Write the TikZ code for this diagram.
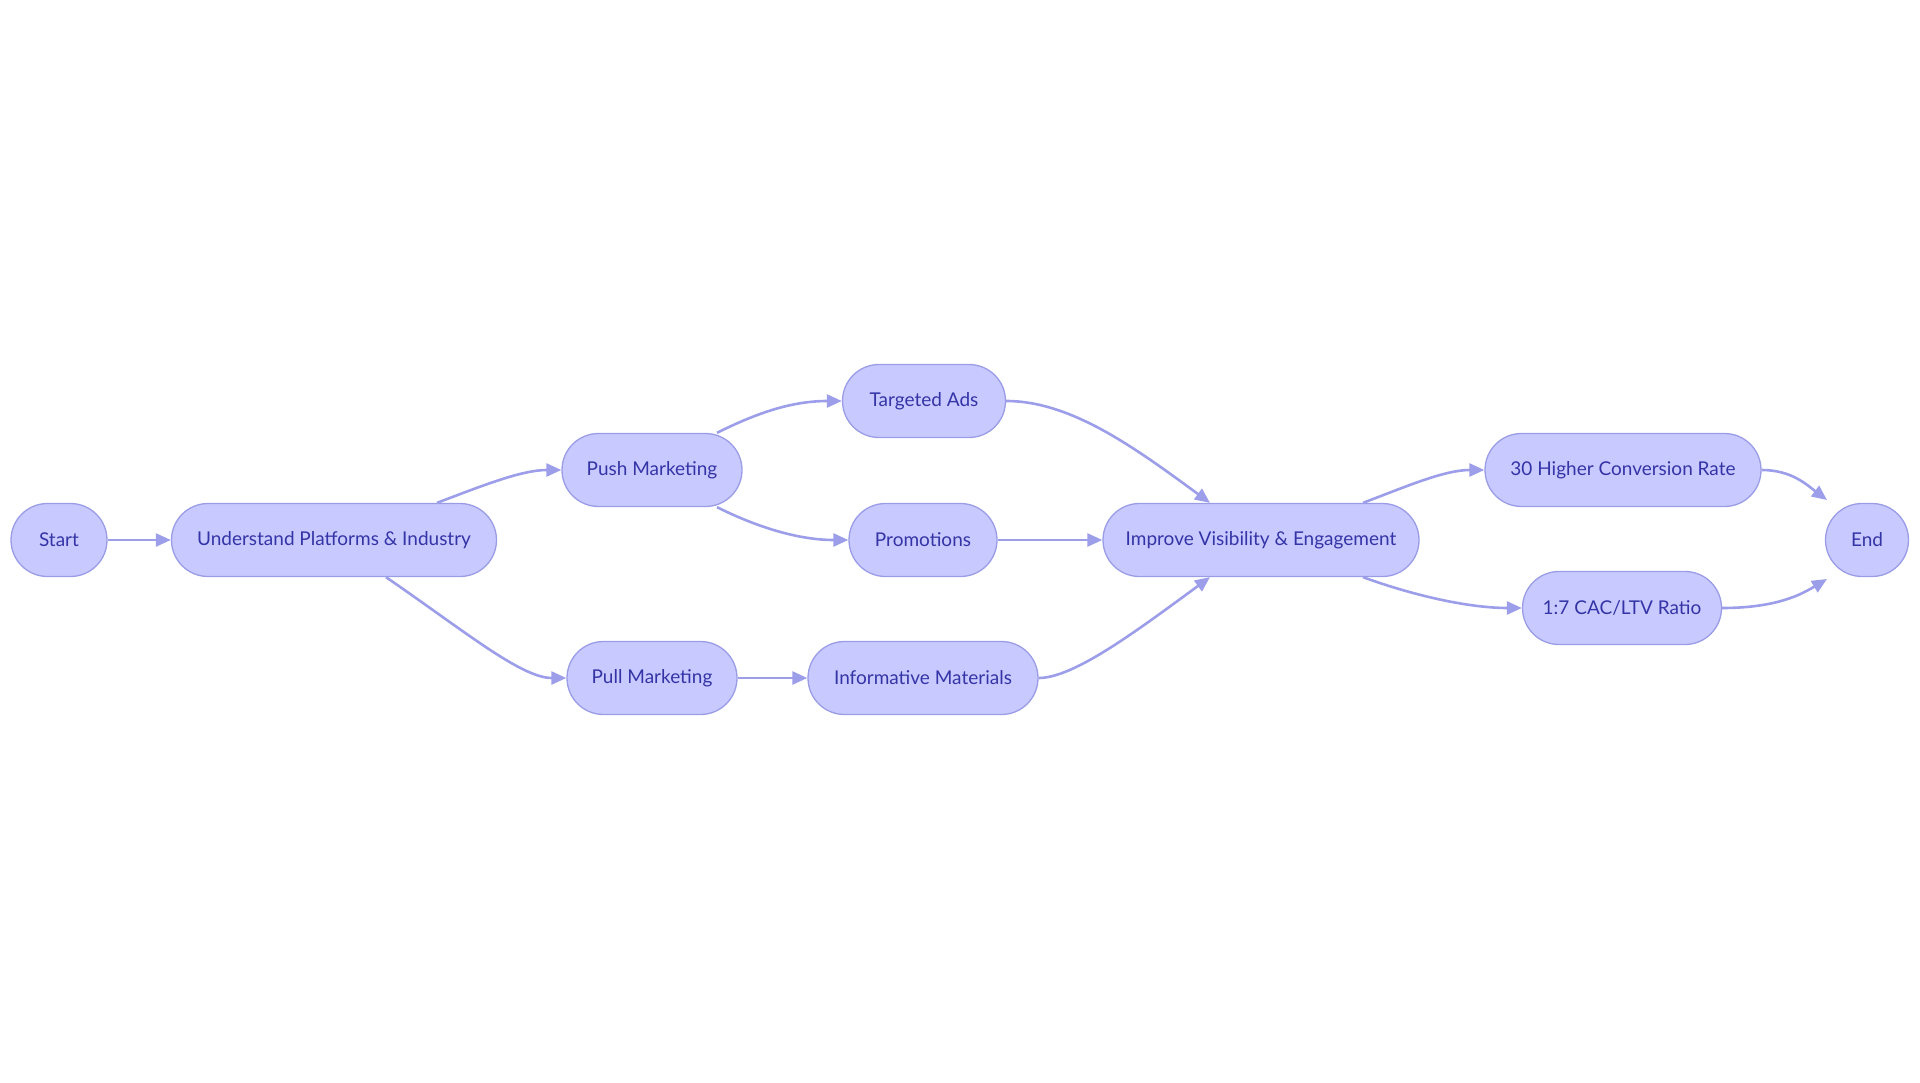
\documentclass[tikz,border=0pt]{standalone}
\usepackage{fontspec}
\setmainfont{Lato}
\usetikzlibrary{shapes.misc,arrows.meta}
\definecolor{nodefill}{HTML}{C8CAFF}
\definecolor{nodeline}{HTML}{9A9CE6}
\definecolor{nodetext}{HTML}{3434A6}
\definecolor{edgecol}{HTML}{9C9EEA}
\tikzset{
  box/.style={rounded rectangle, draw=nodeline, fill=nodefill, line width=1.3pt,
    minimum height=73pt, inner xsep=0pt, text=nodetext,
    font=\fontsize{19}{22}\selectfont},
  edge/.style={draw=edgecol, line width=2.6pt, -{Triangle[length=15pt,width=13pt]}}
}
\begin{document}
\begin{tikzpicture}[x=1pt,y=-1pt]
\useasboundingbox (0,0) rectangle (1920,1083);
\node[box, minimum width=96pt]  (start) at (59,540)   {Start};
\node[box, minimum width=325pt] (und)   at (334,540)  {Understand Platforms \& Industry};
\node[box, minimum width=180pt] (push)  at (652,470)  {Push Marketing};
\node[box, minimum width=170pt] (pull)  at (652,678)  {Pull Marketing};
\node[box, minimum width=163pt] (ads)   at (924,401)  {Targeted Ads};
\node[box, minimum width=148pt] (promo) at (923,540)  {Promotions};
\node[box, minimum width=230pt] (info)  at (923,678)  {Informative Materials};
\node[box, minimum width=316pt] (imp)   at (1261,540) {Improve Visibility \& Engagement};
\node[box, minimum width=276pt] (conv)  at (1623,470) {30 Higher Conversion Rate};
\node[box, minimum width=199pt] (cac)   at (1622,608) {1:7 CAC/LTV Ratio};
\node[box, minimum width=83pt]  (endn)  at (1867,540) {End};

\draw[edge] (start.east) -- (und.west);
\draw[edge] ([xshift=103pt]und.north) .. controls +(45pt,17pt) and +(-40pt,0pt) .. (push.west);
\draw[edge] ([xshift=52pt]und.south) .. controls +(80pt,-55pt) and +(-45pt,0pt) .. (pull.west);
\draw[edge] ([xshift=65pt]push.north) .. controls +(40pt,20pt) and +(-50pt,0pt) .. (ads.west);
\draw[edge] ([xshift=65pt]push.south) .. controls +(40pt,-20pt) and +(-50pt,0pt) .. (promo.west);
\draw[edge] (pull.east) -- (info.west);
\draw[edge] (ads.east) .. controls +(65pt,0pt) and +(-75pt,55pt) .. ([xshift=-51pt]imp.north);
\draw[edge] (promo.east) -- (imp.west);
\draw[edge] (info.east) .. controls +(35pt,0pt) and +(-75pt,-55pt) .. ([xshift=-51pt]imp.south);
\draw[edge] ([xshift=102pt]imp.north) .. controls +(45pt,17pt) and +(-40pt,0pt) .. (conv.west);
\draw[edge] ([xshift=102pt]imp.south) .. controls +(55pt,-20pt) and +(-50pt,0pt) .. (cac.west);
\draw[edge] (conv.east) .. controls +(30pt,0pt) and +(-20pt,15pt) .. ([shift={(-40pt,40pt)}]endn.center);
\draw[edge] (cac.east) .. controls +(55pt,0pt) and +(-25pt,-15pt) .. ([shift={(-40pt,-39pt)}]endn.center);
\end{tikzpicture}
\end{document}
